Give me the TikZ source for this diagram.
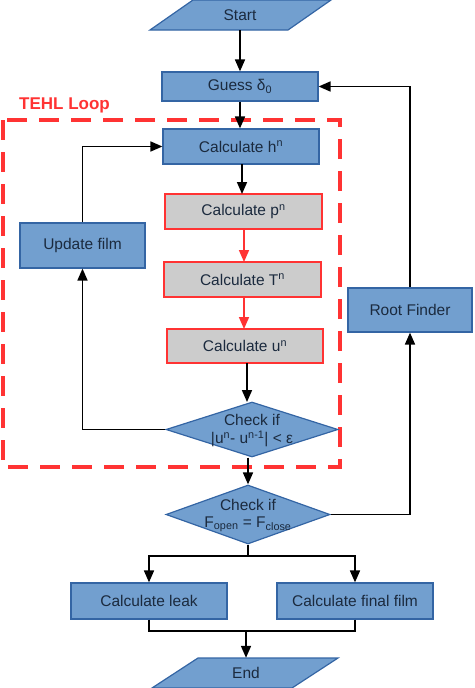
\documentclass[tikz,border=0pt]{standalone}
\usepackage{fontspec}
\setmainfont{Liberation Sans}
\usetikzlibrary{arrows.meta,shapes.geometric}
\definecolor{bfill}{HTML}{729FCF}
\definecolor{bdraw}{HTML}{3465A4}
\definecolor{gfill}{HTML}{CCCCCC}
\definecolor{rline}{HTML}{FF3333}
\definecolor{tcol}{HTML}{1B2A3E}
\begin{document}
\begin{tikzpicture}[x=1pt,y=-1pt,
  font=\fontsize{15.5}{17.5}\selectfont,
  bluebox/.style={draw=bdraw, fill=bfill, line width=1.2pt, text=tcol, inner sep=0pt},
  graybox/.style={draw=rline, fill=gfill, line width=1.2pt, text=tcol, inner sep=0pt},
  decision/.style={diamond, draw=bdraw, fill=bfill, line width=1.2pt, inner sep=0pt},
  para/.style={draw=bdraw, fill=bfill, line width=1.2pt},
  txt/.style={text=tcol, align=center, inner sep=0pt},
  arr/.style={line width=1.7pt, -{Triangle[length=12pt,width=10pt]}},
  ln/.style={line width=1.7pt},
  rarr/.style={draw=rline, line width=1.7pt, -{Triangle[length=12pt,width=10pt]}}
]
\useasboundingbox (0,0) rectangle (474,688);

% TEHL loop frame
\draw[rline, line width=3.5pt, dash pattern=on 20pt off 12pt] (3,120) rectangle (340,467);
\node[text=rline, font=\bfseries\fontsize{17}{20}\selectfont, anchor=west, inner sep=0pt] (tehl) at (19,105) {TEHL Loop};

% Start
\draw[para] (150,30) -- (288,30) -- (331,0) -- (193,0) -- cycle;
\node[txt, minimum width=138pt, minimum height=30pt] (start) at (240,15) {Start};

% Boxes
\node[bluebox, minimum width=156pt, minimum height=29pt] (guess) at (240,86.5) {Guess δ\textsubscript{0}};
\node[bluebox, minimum width=156pt, minimum height=35pt] (calch) at (241,146.5) {Calculate h\textsuperscript{n}};
\node[graybox, minimum width=157pt, minimum height=35pt] (calcp) at (243.5,211.5) {Calculate p\textsuperscript{n}};
\node[graybox, minimum width=157pt, minimum height=35pt] (calct) at (242.5,279.5) {Calculate T\textsuperscript{n}};
\node[graybox, minimum width=156pt, minimum height=34pt] (calcu) at (245,346) {Calculate u\textsuperscript{n}};
\node[bluebox, minimum width=125pt, minimum height=45pt] (upd) at (82.5,245.5) {Update film};
\node[bluebox, minimum width=124pt, minimum height=44pt] (root) at (410,310) {Root Finder};

% Decisions
\node[decision, minimum width=172pt, minimum height=55pt] (chk1) at (252,429.5) {};
\node[txt] at ([yshift=-1pt]chk1.center) {Check if\\|u\textsuperscript{n}- u\textsuperscript{n-1}| < ε};
\node[decision, minimum width=164pt, minimum height=59pt] (chk2) at (248,514.5) {};
\node[txt] at ([yshift=-1pt]chk2.center) {Check if\\F\textsubscript{open} = F\textsubscript{close}};

% Final boxes
\node[bluebox, minimum width=156pt, minimum height=36pt] (leak) at (149,601) {Calculate leak};
\node[bluebox, minimum width=156pt, minimum height=36pt] (final) at (355,601) {Calculate final film};

% End
\draw[para] (198,658) -- (338,658) -- (292,688) -- (152,688) -- cycle;
\node[txt, minimum width=140pt, minimum height=30pt] (end) at (246,673) {End};

% Junctions
\coordinate (j1) at (248,556);
\coordinate (j2) at (246,631);

% Connectors
\draw[arr] (start.south) -- (guess.north);
\draw[arr] (guess.south) -- (guess.south |- calch.north);
\draw[arr] (242,164) -- (242,194);
\draw[rarr] (244,229) -- (244,262);
\draw[rarr] (244,297) -- (244,329);
\draw[arr] (247,363) -- (247,402);
\draw[arr] (chk1.south -| chk2.north) -- (chk2.north);
\draw[arr] (chk1.west) -| (upd.south);
\draw[arr] (upd.north) |- (calch.west);
\draw[arr] (chk2.east) -| (root.south);
\draw[arr] (root.north) |- (guess.east);
\draw[ln] (chk2.south) -- (j1);
\draw[arr] (j1) -| (leak.north);
\draw[arr] (j1) -| (final.north);
\draw[ln] (leak.south) |- (j2);
\draw[ln] (final.south) |- (j2);
\draw[arr] (j2) -- (end.north);
\end{tikzpicture}
\end{document}
